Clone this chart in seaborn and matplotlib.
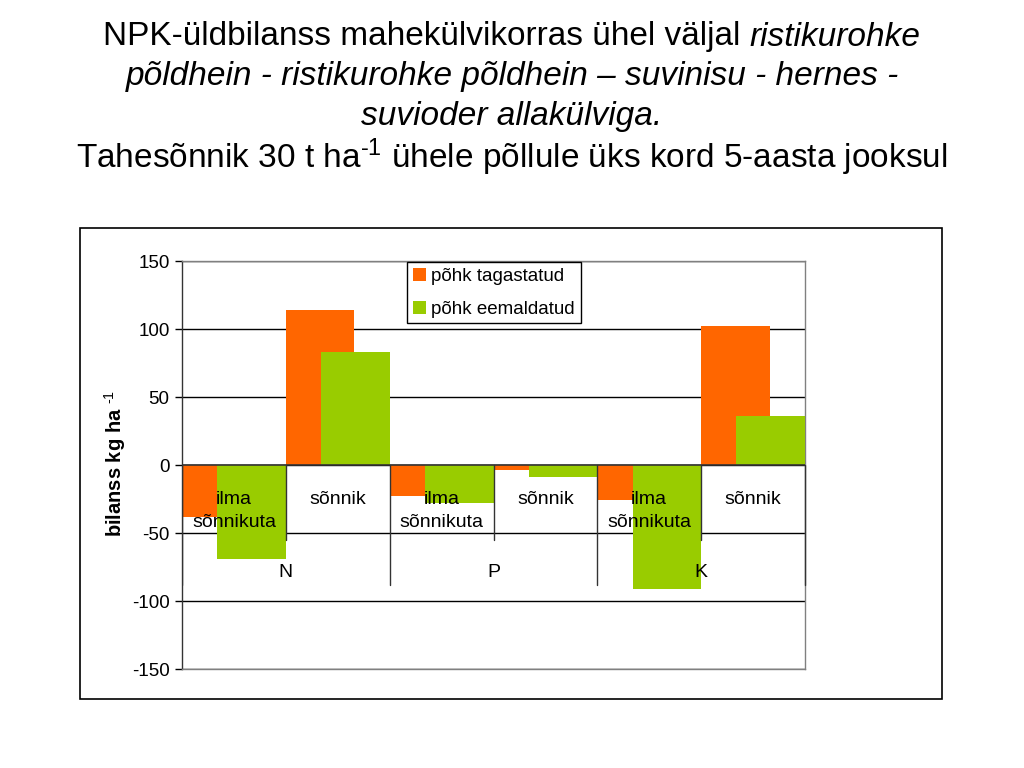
import matplotlib
matplotlib.use("Agg")
import matplotlib.pyplot as plt
import seaborn as sns
import pandas as pd
import numpy as np
from matplotlib.patches import Rectangle, Patch

# ---- data ----
subcategories = ["ilma\nsõnnikuta", "sõnnik", "ilma\nsõnnikuta", "sõnnik", "ilma\nsõnnikuta", "sõnnik"]
groups = ["N", "P", "K"]
series_names = ["põhk tagastatud", "põhk eemaldatud"]
tagastatud = [-38, 114, -23, -4, -26, 102]
eemaldatud = [-69, 83, -28, -9, -91, 36]
yticks = [-150, -100, -50, 0, 50, 100, 150]

ORANGE = "#FF6600"
GREEN = "#99CC00"

sns.set_theme(style="white")
plt.rcParams['font.family'] = ['Liberation Sans', 'DejaVu Sans']
plt.rcParams['mathtext.fontset'] = 'custom'
plt.rcParams['mathtext.rm'] = 'Liberation Sans'
plt.rcParams['mathtext.it'] = 'Liberation Sans:italic'
plt.rcParams['mathtext.bf'] = 'Liberation Sans:bold'
plt.rcParams['text.color'] = 'black'
plt.rcParams['axes.labelcolor'] = 'black'
plt.rcParams['xtick.color'] = 'black'
plt.rcParams['ytick.color'] = 'black'

W, H = 1024, 768
fig = plt.figure(figsize=(W / 100, H / 100), dpi=100)
fig.patch.set_facecolor("white")

L, R, T, B = 182, 805, 261, 669
ax = fig.add_axes([L / W, 1 - B / H, (R - L) / W, (B - T) / H])

pos = np.arange(len(subcategories))
off = 0.17
bw = 0.66
df1 = pd.DataFrame({"x": pos - off, "val": tagastatud})
df2 = pd.DataFrame({"x": pos + off, "val": eemaldatud})
sns.barplot(data=df1, x="x", y="val", native_scale=True, width=bw, color=ORANGE,
            saturation=1, errorbar=None, ax=ax, linewidth=0, zorder=2)
sns.barplot(data=df2, x="x", y="val", native_scale=True, width=bw, color=GREEN,
            saturation=1, errorbar=None, ax=ax, linewidth=0, zorder=3)

ax.set_xlim(-0.5, len(subcategories) - 0.5)
ax.set_ylim(-150, 150)
ax.set_yticks(yticks)
ax.set_yticklabels([str(v) for v in yticks], fontsize=13.5, color="black")
ax.set_xticks([])
ax.set_xlabel("")
ax.set_ylabel("")
ax.tick_params(axis="y", direction="out", length=5, width=1, color="black", pad=4, left=True)
for v in yticks:
    ax.axhline(v, color="black", lw=1, zorder=1)
ax.axhline(0, color="#333333", lw=1.2, zorder=5)

for s in ["top", "right", "bottom"]:
    ax.spines[s].set_color("#808080")
    ax.spines[s].set_linewidth(1)
ax.spines["left"].set_color("#333333")
ax.spines["left"].set_linewidth(1)

# category axis at zero
for i in range(len(subcategories)):
    b = i + 0.5
    if i % 2 == 0:
        ax.plot([b, b], [0, -55], color="#333333", lw=1, zorder=6, clip_on=False)
    else:
        ax.plot([b, b], [0, -88], color="#333333", lw=1, zorder=6, clip_on=False)
ax.plot([-0.5, -0.5], [0, -88], color="#333333", lw=1, zorder=6)
for i, lab in enumerate(subcategories):
    ax.text(i, -19, lab, ha="center", va="top", fontsize=14, linespacing=1.45, zorder=7, color="black")
for g, name in enumerate(groups):
    ax.text(2 * g + 0.5, -79, name, ha="center", va="center", fontsize=14, zorder=7, color="black")

handles = [Patch(facecolor=ORANGE, edgecolor="none", label=series_names[0]),
           Patch(facecolor=GREEN, edgecolor="none", label=series_names[1])]
leg = ax.legend(handles=handles, loc="upper left", bbox_to_anchor=(407 / W, 1 - 262 / H),
                bbox_transform=fig.transFigure, borderaxespad=0, fontsize=13.5,
                fancybox=False, edgecolor="black", framealpha=1, borderpad=0.3,
                labelspacing=0.85, handlelength=0.7, handleheight=0.7, handletextpad=0.3)
leg.get_frame().set_linewidth(1)
leg.set_zorder(10)
for t in leg.get_texts():
    t.set_color("black")

fig.text(115 / W, 1 - 463 / H, r"bilanss kg ha $^{\mathbf{\text{-1}}}$", rotation=90,
         ha="center", va="center", fontsize=14.5, fontweight="bold", color="black")

# outer frame
fig.patches.append(Rectangle((80 / W, 1 - 699 / H), (942 - 80) / W, (699 - 228) / H,
                             transform=fig.transFigure, fill=False, edgecolor="black", lw=1.2))

# title
TS = 24
renderer = fig.canvas.get_renderer()

def mixed_line(ycen, parts):
    texts = []
    for txt, style in parts:
        t = fig.text(0, 1 - ycen / H, txt, fontsize=TS, style=style, ha="left", va="center", color="black")
        texts.append(t)
    widths = [t.get_window_extent(renderer).width for t in texts]
    gap = 0.28 * TS * 100 / 72
    total = sum(widths) + gap * (len(texts) - 1)
    x = W / 2 - total / 2
    for t, w in zip(texts, widths):
        t.set_x(x / W)
        x += w + gap

mixed_line(37, [("NPK-üldbilanss mahekülvikorras ühel väljal", "normal"), ("ristikurohke", "italic")])
fig.text(0.5, 1 - 77 / H, "põldhein - ristikurohke põldhein – suvinisu - hernes -", fontsize=TS,
         style="italic", ha="center", va="center", color="black")
fig.text(0.5, 1 - 117 / H, "suvioder allakülviga.", fontsize=TS, style="italic", ha="center",
         va="center", color="black")
fig.text(0.5, 1 - 157 / H, r"Tahesõnnik 30 t ha$^{\text{-1}}$ ühele põllule üks kord 5-aasta jooksul",
         fontsize=TS, ha="center", va="center", color="black")

fig.savefig("out.png", dpi=100, facecolor="white")
